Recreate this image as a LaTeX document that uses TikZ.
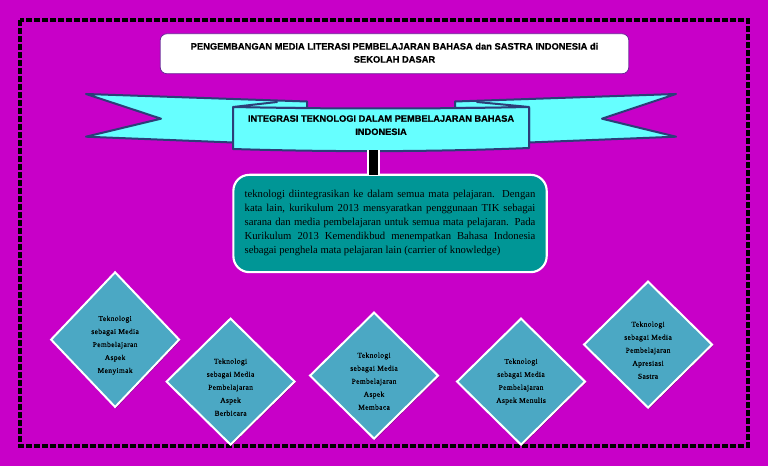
\documentclass[tikz,border=0pt]{standalone}
\usepackage{fontspec}
\setmainfont{Liberation Serif}
\setsansfont[BoldFeatures={FakeBold=0.7}]{Liberation Sans}
\newfontfamily\aspekfont[LetterSpace=5,FakeBold=0.5]{Liberation Serif}
\usetikzlibrary{shapes.geometric, shadows, positioning}
\definecolor{latar}{HTML}{C800C8}
\definecolor{pita}{HTML}{66FFFF}
\definecolor{garis}{HTML}{2C3E78}
\definecolor{isi}{HTML}{009696}
\definecolor{biru}{HTML}{4BA8C4}
\tikzset{%
% Specifications for style of nodes:
base/.style = {align=center, inner sep=0pt, outer sep=0pt},
judul/.style = {base, rectangle, rounded corners=5pt, draw=garis!60!latar, fill=white, line width=0.6pt, minimum width=351.5pt, minimum height=30pt, font=\sffamily\bfseries\fontsize{7}{9.75}\selectfont},
banner/.style = {base, minimum width=222pt, minimum height=37.5pt, font=\sffamily\bfseries\fontsize{6.95}{9.9}\selectfont},
ribbon/.style = {draw=garis, fill=pita, line width=1.5pt, line join=round},
isibox/.style = {rectangle, rounded corners=12pt, draw=white, fill=isi, line width=1.6pt, outer sep=0pt, inner sep=0pt, minimum width=235pt, minimum height=73pt, text width=218pt, align=justify, font=\fontsize{8}{10.5}\selectfont},
aspek/.style = {base, diamond, draw=white, fill=biru, line width=1.5pt, minimum width=96pt, minimum height=94.5pt, font=\aspekfont\fontsize{5.6}{9.75}\selectfont, drop shadow={shadow xshift=0.8pt, shadow yshift=-0.8pt, fill=black, opacity=0.35}},
bingkai/.style = {draw=black, line width=2.3pt, dash pattern=on 4.6pt off 1.4pt},
tiang/.style = {draw=white, line width=1.4pt, double=black, double distance=6.8pt},
}

\begin{document}
\begin{tikzpicture}[x=0.75pt, y=-0.75pt]
        \useasboundingbox (0,0) rectangle (768,466);
        \fill [latar] (0,0) rectangle (768,466);
        \draw [bingkai] (20,20) rectangle (748,446);

        % Tails and front of the ribbon
        \draw [ribbon] (86,94) -- (307,101.5) -- (307,108) -- (233,108) -- (233,142.5) -- (86,136.7) -- (161,118.7) -- cycle;
        \draw [ribbon] (676,94) -- (455,101.5) -- (455,108) -- (529,108) -- (529,142.5) -- (676,136.7) -- (602,118.7) -- cycle;
        \draw [ribbon] (277,102) -- (233,107) -- (233,149) .. controls (330,152) and (430,152) .. (529,148) -- (529,107) -- (477,102) -- (529,107) .. controls (430,109) and (330,109) .. (233,107) -- cycle;

        % Specification of nodes (position, etc.)
        \node (title) [judul] at (394.5,53.75) {PENGEMBANGAN MEDIA LITERASI PEMBELAJARAN BAHASA dan SASTRA INDONESIA di\\SEKOLAH DASAR\\[-8.25pt]\mbox{}};
        \node (integrasi) [banner, below=19.8pt of title, xshift=-10.1pt] {INTEGRASI TEKNOLOGI DALAM PEMBELAJARAN BAHASA\\INDONESIA};
        \node (body) [isibox, below=18.5pt of integrasi, xshift=6.75pt] {teknologi diintegrasikan ke dalam semua mata pelajaran. Dengan\linebreak kata lain, kurikulum 2013 mensyaratkan penggunaan TIK sebagai\linebreak sarana dan media pembelajaran untuk semua mata pelajaran. Pada\linebreak Kurikulum 2013 Kemendikbud menempatkan Bahasa Indonesia\linebreak sebagai penghela mata pelajaran lain (carrier of knowledge)\par\vspace{-7.5pt}\mbox{}};
        \node (membaca) [aspek, below=30.35pt of body, xshift=-12pt] {\mbox{}\\[2.5pt]Teknologi\\sebagai Media\\Pembelajaran\\Aspek\\Membaca};
        \node (berbicara) [aspek, left=11.6pt of membaca, yshift=-4.5pt] {\mbox{}\\[2.5pt]Teknologi\\sebagai Media\\Pembelajaran\\Aspek\\Berbicara};
        \node (menyimak) [aspek, minimum height=101pt, left=-9.4pt of berbicara, yshift=31.5pt] {\mbox{}\\[2.5pt]Teknologi\\sebagai Media\\Pembelajaran\\Aspek\\Menyimak};
        \node (menulis) [aspek, right=14.25pt of membaca, yshift=-4.5pt] {Teknologi\\sebagai Media\\Pembelajaran\\Aspek Menulis};
        \node (apresiasi) [aspek, right=-0.75pt of menulis, yshift=27.75pt] {\mbox{}\\[2.5pt]Teknologi\\sebagai Media\\Pembelajaran\\Apresiasi\\Sastra};

        \draw [tiang] ([xshift=-5.5pt]integrasi.south) -- ([xshift=-5.5pt]integrasi.south |- body.north);
    \end{tikzpicture}
\end{document}
